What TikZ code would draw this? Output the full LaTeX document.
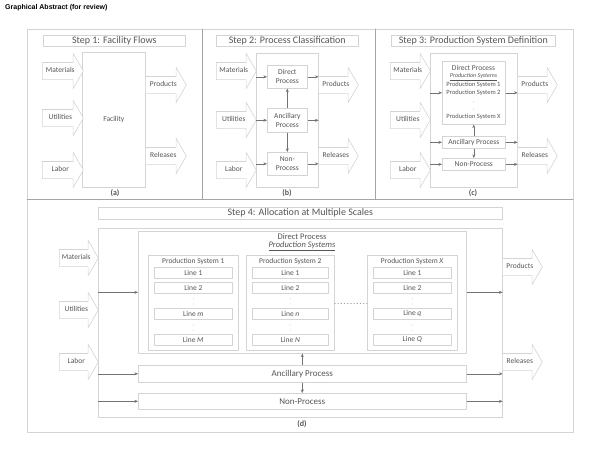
\documentclass[tikz,border=0pt]{standalone}
\usepackage{fontspec}
\setmainfont{Carlito}
\newfontfamily\headfont{Liberation Sans}
\usetikzlibrary{arrows.meta}
\usetikzlibrary{shapes.arrows}
\definecolor{inkgray}{RGB}{85,85,85}
\definecolor{edgegray}{RGB}{212,212,212}
\definecolor{rulegray}{RGB}{165,165,165}
\definecolor{wiregray}{RGB}{115,115,115}
\tikzset{
  panelbox/.style={draw=edgegray,line width=0.6pt,fill=white,inner sep=0pt,anchor=north west,text=inkgray},
  titlebox/.style={panelbox,font=\fontsize{10}{12}\selectfont},
  procbox/.style={panelbox,font=\fontsize{7.5}{9}\selectfont,align=center},
  linebox/.style={draw=edgegray,line width=0.6pt,fill=white,inner sep=0pt,minimum height=11pt,text=inkgray,font=\fontsize{7.5}{9}\selectfont},
  flow/.style={single arrow,draw=edgegray,line width=0.6pt,fill=white,text=inkgray,
    single arrow tip angle=120,single arrow head extend=9pt,
    font=\fontsize{7.5}{9}\selectfont,text height=5pt,text depth=1.5pt,inner ysep=5pt,inner xsep=1pt,anchor=tail},
  wire/.style={draw=wiregray,line width=0.5pt,line cap=butt,-{Stealth[length=3.6pt,width=3pt]}},
  tag/.style={text=inkgray,font=\fontsize{8}{9}\selectfont\bfseries},
  lbl/.style={text=inkgray,inner sep=0pt}
}

\begin{document}
\begin{tikzpicture}[line cap=round,line join=round,x=1pt,y=-1pt]
\useasboundingbox (0,0) rectangle (600,464);
\node[anchor=west,inner sep=0pt,font={\headfont\bfseries\fontsize{7}{8}\selectfont}] (head) at (5,8) {Graphical Abstract (for review)};
\draw[edgegray,line width=0.6pt] (27,29) rectangle (573,432);
\draw[rulegray,line width=0.8pt] (27,199) -- (573,199);
\draw[rulegray,line width=0.8pt] (202,29) -- (202,199);
\draw[rulegray,line width=0.8pt] (375,29) -- (375,199);

\node[titlebox,minimum width=142pt,minimum height=11pt] (atitle) at (43,35) {Step 1: Facility Flows};
\node[procbox,minimum width=63pt,minimum height=135pt] (afac) at (82,52) {Facility};
\node[flow,minimum height=41pt] (amat) at (42,71) {Materials};
\node[flow,minimum height=41pt] (autil) at (42,118) {Utilities};
\node[flow,minimum height=41pt] (alab) at (42,170) {Labor};
\node[flow,minimum height=41pt] (aprod) at (145,85) {Products};
\node[flow,minimum height=41pt] (arel) at (145,156) {Releases};
\node[tag] (atag) at (115,193) {(a)};

\node[titlebox,minimum width=142pt,minimum height=11pt] (btitle) at (216,35) {Step 2: Process Classification};
\node[panelbox,minimum width=62pt,minimum height=134pt] (bcont) at (256,53) {};
\node[procbox,minimum width=40pt,minimum height=23pt] (bdir) at (267,65) {Direct\\Process};
\node[procbox,minimum width=40pt,minimum height=24pt] (banc) at (267,108) {Ancillary\\Process};
\node[procbox,minimum width=40pt,minimum height=23pt] (bnon) at (267,152) {Non-\\Process};
\node[flow,minimum height=40pt] (bmat) at (216,71) {Materials};
\node[flow,minimum height=40pt] (butil) at (216,120) {Utilities};
\node[flow,minimum height=40pt] (blab) at (216,170) {Labor};
\node[flow,minimum height=40pt] (bprod) at (318,85) {Products};
\node[flow,minimum height=40pt] (brel) at (318,156) {Releases};
\foreach \bx in {bdir,banc,bnon}
{\draw[wire] (bcont.west |- \bx.west) -- (\bx.west);
\draw[wire] (\bx.east) -- (bcont.east |- \bx.east);}
\draw[wire] (banc.north) -- (bdir.south);
\draw[wire] (banc.south) -- (bnon.north);
\node[tag] (btag) at (287,193) {(b)};

\node[titlebox,minimum width=164pt,minimum height=11pt] (ctitle) at (391,35) {Step 3: Production System Definition};
\node[panelbox,minimum width=87pt,minimum height=134pt] (ccont) at (430,53) {};
\node[panelbox,minimum width=63pt,minimum height=63pt] (cdir) at (442,61) {};
\node[procbox,minimum width=63pt,minimum height=12pt] (canc) at (442,136) {Ancillary Process};
\node[procbox,minimum width=63pt,minimum height=12pt] (cnon) at (442,158) {Non-Process};
\node[lbl,font=\fontsize{7.5}{9}\selectfont] (cdirt) at (473.5,68) {Direct Process};
\node[lbl,font=\fontsize{6}{7}\selectfont] (cpst) at (473.5,77) {\underline{\textit{Production Systems}}};
\node[lbl,font=\fontsize{6.5}{7}\selectfont] (cps1) at (473.5,85) {Production System 1};
\node[lbl,font=\fontsize{6.5}{7}\selectfont] (cps2) at (473.5,93) {Production System 2};
\node[lbl,font=\fontsize{6.5}{7}\selectfont] (cpsx) at (473.5,117) {Production System X};
\fill[inkgray!60] (473.5,102) circle (0.35pt) (473.5,109) circle (0.35pt);
\node[flow,minimum height=40pt] (cmat) at (390,71) {Materials};
\node[flow,minimum height=40pt] (cutil) at (390,120) {Utilities};
\node[flow,minimum height=40pt] (clab) at (390,170) {Labor};
\node[flow,minimum height=40pt] (cprod) at (517,85) {Products};
\node[flow,minimum height=40pt] (crel) at (517,156) {Releases};
\foreach \cx in {cdir,canc,cnon}
{\draw[wire] (ccont.west |- \cx.west) -- (\cx.west);
\draw[wire] (\cx.east) -- (ccont.east |- \cx.east);}
\draw[wire] (canc.north) -- (cdir.south);
\draw[wire] (canc.south) -- (cnon.north);
\node[tag] (ctag) at (473,193) {(c)};

\node[titlebox,minimum width=404pt,minimum height=12pt] (dtitle) at (98,207) {Step 4: Allocation at Multiple Scales};
\node[panelbox,minimum width=404pt,minimum height=189pt] (dcont) at (98,228) {};
\node[panelbox,minimum width=328pt,minimum height=122pt] (ddir) at (138,231) {};
\node[lbl,font=\fontsize{8.5}{10}\selectfont] (ddirt) at (302,236.5) {Direct Process};
\node[lbl,font=\fontsize{8.5}{10}\selectfont] (dpst) at (302,246.5) {\underline{\textit{Production Systems}}};
\foreach \ps/\px/\pw/\pname/\pa/\pb in {ps1/148/90/{Production System 1}/m/M,ps2/246/88/{Production System 2}/n/N,psx/367/90/{Production System \textit{X}}/q/Q}
{\node[panelbox,minimum width=\pw*1pt,minimum height=95pt] (\ps) at (\px,255) {};
\node[lbl,font=\fontsize{7.5}{9}\selectfont] (\ps-t) at ([yshift=-6pt]\ps.north) {\pname};
\node[linebox,minimum width=(\pw-12)*1pt] (\ps-a) at ([yshift=-17.5pt]\ps.north) {Line 1};
\node[linebox,minimum width=(\pw-12)*1pt] (\ps-b) at ([yshift=-32.5pt]\ps.north) {Line 2};
\node[linebox,minimum width=(\pw-12)*1pt] (\ps-c) at ([yshift=-58.5pt]\ps.north) {Line \textit{\pa}};
\node[linebox,minimum width=(\pw-12)*1pt] (\ps-d) at ([yshift=-84.5pt]\ps.north) {Line \textit{\pb}};
\fill[inkgray!60] ([yshift=-44pt]\ps.north) circle (0.35pt) ([yshift=-49pt]\ps.north) circle (0.35pt)
 ([yshift=-70pt]\ps.north) circle (0.35pt) ([yshift=-75pt]\ps.north) circle (0.35pt);}
\draw[inkgray!60,line width=0.6pt,dash pattern=on 0.6pt off 2.6pt] (ps2.east) -- (psx.west);
\node[procbox,minimum width=328pt,minimum height=17pt,font=\fontsize{9}{10}\selectfont] (danc) at (138,365) {Ancillary Process};
\node[procbox,minimum width=328pt,minimum height=16pt,font=\fontsize{9}{10}\selectfont] (dnon) at (138,393) {Non-Process};
\node[flow,minimum height=39pt] (dmat) at (59,258) {Materials};
\node[flow,minimum height=39pt] (dutil) at (59,310) {Utilities};
\node[flow,minimum height=39pt] (dlab) at (59,362) {Labor};
\node[flow,minimum height=40pt] (dprod) at (502,267) {Products};
\node[flow,minimum height=40pt] (drel) at (502,362) {Releases};
\foreach \dx in {ddir,danc,dnon}
{\draw[wire] (dcont.west |- \dx.west) -- (\dx.west);
\draw[wire] (\dx.east) -- (dcont.east |- \dx.east);}
\draw[wire] (danc.north) -- (ddir.south);
\draw[wire] (danc.south) -- (dnon.north);
\node[tag] (dtag) at (302,424) {(d)};
\end{tikzpicture}
\end{document}
